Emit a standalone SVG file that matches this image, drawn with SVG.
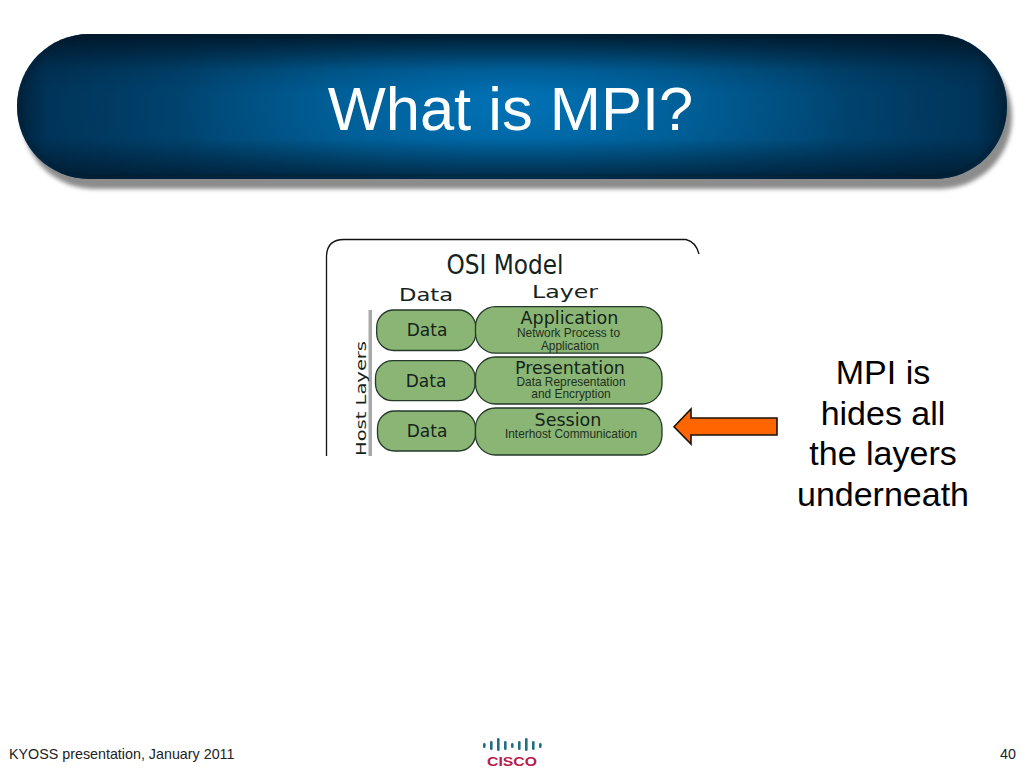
<svg xmlns="http://www.w3.org/2000/svg" width="1024" height="768" viewBox="0 0 1024 768">
<style>
text{font-family:"Liberation Sans",Arial,sans-serif;fill:#000}
.dv{font-family:"DejaVu Sans",sans-serif;fill:#14241a}
.box{fill:#8ab574;stroke:#24392a;stroke-width:1.3}
.sub{font-size:11.9px;fill:#20301f;text-anchor:middle}
.ttl{font-size:17.5px;text-anchor:middle}
.dat{font-size:17px;text-anchor:middle}
.side{font-size:34px;text-anchor:middle}
.foot{font-size:14.3px;fill:#222}
</style>
<defs>
<radialGradient id="bg" gradientUnits="userSpaceOnUse" cx="0" cy="0" r="1" gradientTransform="translate(512 106) scale(520 210)">
<stop offset="0" stop-color="#0072b6"/><stop offset="0.35" stop-color="#005e96"/><stop offset="0.65" stop-color="#004470"/><stop offset="1" stop-color="#00345a"/>
</radialGradient>
<linearGradient id="edge" x1="0" y1="0" x2="0" y2="1">
<stop offset="0" stop-color="#001526" stop-opacity="0.9"/><stop offset="0.25" stop-color="#001526" stop-opacity="0.12"/><stop offset="0.4" stop-color="#001526" stop-opacity="0"/><stop offset="0.72" stop-color="#001526" stop-opacity="0"/><stop offset="1" stop-color="#001526" stop-opacity="0.72"/>
</linearGradient>
<linearGradient id="ends" x1="0" y1="0" x2="1" y2="0">
<stop offset="0" stop-color="#00111e" stop-opacity="0.55"/><stop offset="0.03" stop-color="#00111e" stop-opacity="0.12"/><stop offset="0.2" stop-color="#00111e" stop-opacity="0"/><stop offset="0.8" stop-color="#00111e" stop-opacity="0"/><stop offset="0.97" stop-color="#00111e" stop-opacity="0.12"/><stop offset="1" stop-color="#00111e" stop-opacity="0.55"/>
</linearGradient>
<filter id="blur" x="-5%" y="-20%" width="110%" height="140%"><feGaussianBlur stdDeviation="2"/></filter>
</defs>
<rect width="1024" height="768" fill="#fff"/>
<g id="banner">
<rect x="22" y="44" width="990" height="145" rx="72" fill="#8c8c8c" filter="url(#blur)"/>
<rect x="17" y="34" width="990" height="145" rx="72" fill="url(#bg)"/>
<rect x="17" y="34" width="990" height="145" rx="72" fill="url(#edge)"/>
<rect x="17" y="34" width="990" height="145" rx="72" fill="url(#ends)"/>
<rect x="21" y="38" width="982" height="137" rx="68" fill="none" stroke="#001a2c" stroke-opacity="0.3" stroke-width="1.5"/>
<text x="510.5" y="130" font-size="61.5" text-anchor="middle" style="fill:#fff">What is MPI?</text>
</g>
<g id="osi">
<path d="M326.5 456 V257 Q326.5 239.5 344 239.5 H686 Q696 242 699 254" fill="none" stroke="#111" stroke-width="1.3"/>
<text class="dv" x="505" y="274" font-size="26" text-anchor="middle" textLength="117" lengthAdjust="spacingAndGlyphs">OSI Model</text>
<text class="dv" x="426" y="301" font-size="17.5" text-anchor="middle" textLength="54" lengthAdjust="spacingAndGlyphs">Data</text>
<text class="dv" x="565" y="298" font-size="17.5" text-anchor="middle" textLength="66" lengthAdjust="spacingAndGlyphs">Layer</text>
<rect x="368.5" y="310" width="3.5" height="146" fill="#a9a9a9"/>
<text class="dv" transform="translate(366 398.5) rotate(-90)" font-size="13.5" text-anchor="middle" textLength="115" lengthAdjust="spacingAndGlyphs">Host Layers</text>
</g>
<g id="data-1"><rect class="box" x="376.7" y="310" width="99" height="40.5" rx="17"/><text class="dv dat" x="427" y="336">Data</text></g>
<g id="data-2"><rect class="box" x="375.5" y="360.7" width="99.5" height="40" rx="17"/><text class="dv dat" x="426" y="386.5">Data</text></g>
<g id="data-3"><rect class="box" x="377.5" y="411" width="98" height="40" rx="17"/><text class="dv dat" x="427" y="436.5">Data</text></g>
<g id="application"><rect class="box" x="475.5" y="306.7" width="186.5" height="46.5" rx="20"/>
<text class="dv ttl" x="569.5" y="324">Application</text><text class="sub" x="568.5" y="337">Network Process to</text><text class="sub" x="570" y="349.5">Application</text></g>
<g id="presentation"><rect class="box" x="475.5" y="357" width="186.5" height="47" rx="20"/>
<text class="dv ttl" x="570" y="373.5">Presentation</text><text class="sub" x="571" y="386">Data Representation</text><text class="sub" x="571" y="398">and Encryption</text></g>
<g id="session"><rect class="box" x="475.5" y="408" width="186.5" height="47" rx="20"/>
<text class="dv ttl" x="568" y="426">Session</text><text class="sub" x="571" y="438">Interhost Communication</text></g>
<g id="connectors">
<path d="M674 426.7 L691 409 V418 H777 V435 H691 V444 Z" fill="#ff6600" stroke="#1a1208" stroke-width="1.6"/>
</g>
<g id="note">
<text class="side" x="883" y="384">MPI is</text>
<text class="side" x="883" y="425">hides all</text>
<text class="side" x="883" y="465">the layers</text>
<text class="side" x="883" y="506">underneath</text>
</g>
<g id="footer">
<text class="foot" x="9" y="759">KYOSS presentation, January 2011</text>
<text class="foot" x="1016" y="759" text-anchor="end">40</text>
</g>
<g id="cisco" fill="#1f6f80">
<rect x="483" y="743" width="2.6" height="5" rx="1.3"/><rect x="490" y="741" width="2.6" height="9" rx="1.3"/><rect x="497" y="738" width="2.6" height="13" rx="1.3"/><rect x="504" y="741" width="2.6" height="9" rx="1.3"/><rect x="511" y="743" width="2.6" height="5" rx="1.3"/><rect x="518" y="741" width="2.6" height="9" rx="1.3"/><rect x="525" y="738" width="2.6" height="13" rx="1.3"/><rect x="532" y="741" width="2.6" height="9" rx="1.3"/><rect x="539" y="743" width="2.6" height="5" rx="1.3"/>
<text x="512" y="766" font-size="13" font-weight="bold" text-anchor="middle" textLength="50" lengthAdjust="spacingAndGlyphs" style="fill:#b5204a">CISCO</text>
</g>
</svg>
